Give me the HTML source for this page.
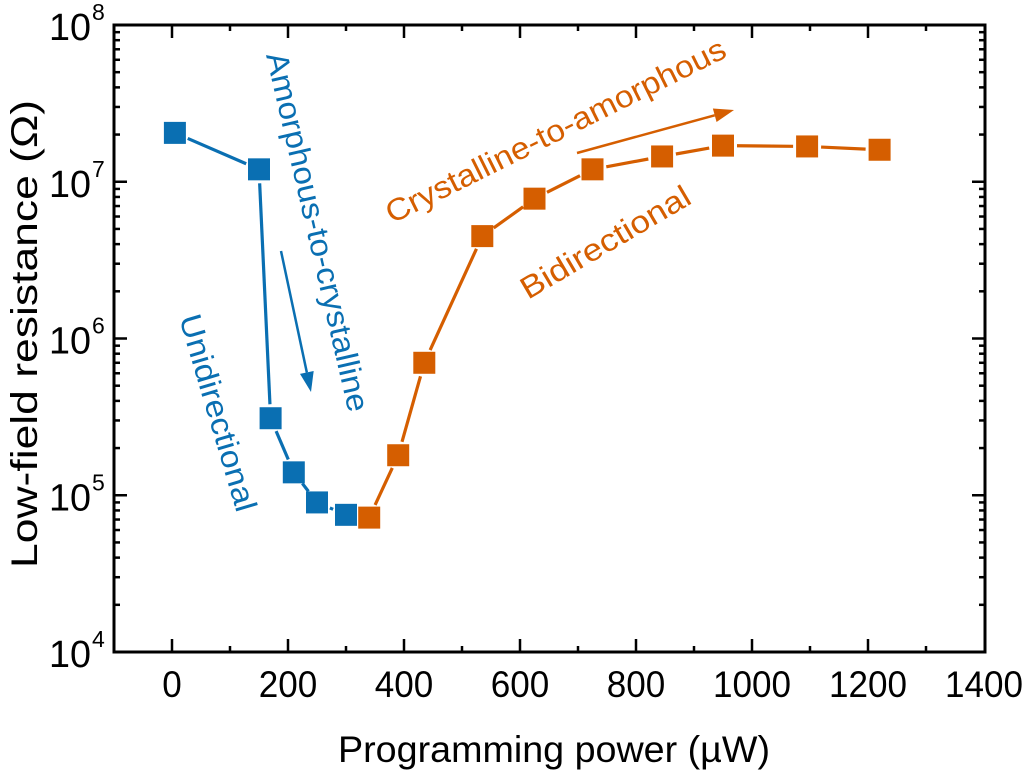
<!DOCTYPE html>
<html><head><meta charset="utf-8"><style>
html,body{margin:0;padding:0;background:#fff;}
svg{display:block;font-family:"Liberation Sans",Arial,sans-serif;}
</style></head><body>
<svg id="chart" width="1025" height="774" viewBox="0 0 1025 774">
<g id="axes"></g><g id="series"></g><g id="annot"></g>
</svg>
<script>
const xTicks=[0,200,400,600,800,1000,1200,1400];
const yDecades=[4,5,6,7,8];
const blueX=[5,150,170,210,250,300];
const blueY=[2.05e7,1.2e7,3.1e5,1.4e5,9.0e4,7.5e4];
const orangeX=[340,390,435,535,625,725,845,950,1095,1220];
const orangeY=[7.2e4,1.8e5,7.0e5,4.5e6,7.8e6,1.2e7,1.45e7,1.7e7,1.68e7,1.6e7];
const L=114,R=985,T=25,B=652;
const X=v=>172+v*(984-172)/1400;
const Y=v=>T+(8-Math.log10(v))*(B-T)/4;
const NS="http://www.w3.org/2000/svg";
function mk(tag,at,par){const e=document.createElementNS(NS,tag);for(const k in at)e.setAttribute(k,at[k]);par.appendChild(e);return e;}
const ax=document.getElementById('axes'),se=document.getElementById('series'),an=document.getElementById('annot');
const frame=mk('rect',{x:L,y:T,width:R-L,height:B-T,fill:'none',stroke:'#000','stroke-width':3},ax);


for(let v=-100;v<=1400;v+=100){const x=X(v);if(x<L+2||x>R-2)continue;const major=v%200===0;
 mk('line',{x1:x,y1:B,x2:x,y2:B-(major?13:6),stroke:'#000','stroke-width':2.5},ax);
 mk('line',{x1:x,y1:T,x2:x,y2:T+(major?13:6),stroke:'#000','stroke-width':2.5},ax);}
xTicks.forEach(v=>{const s=String(v);const t=mk('text',{x:X(v),y:B+45,'text-anchor':'middle','font-size':37,textLength:s.length*19.5,lengthAdjust:'spacingAndGlyphs'},ax);t.textContent=s;
 
 });
yDecades.forEach(d=>{const y=Y(Math.pow(10,d));
 mk('line',{x1:L,y1:y,x2:L+13,y2:y,stroke:'#000','stroke-width':2.5},ax);
 mk('line',{x1:R,y1:y,x2:R-13,y2:y,stroke:'#000','stroke-width':2.5},ax);
 if(d<8)for(let m=2;m<=9;m++){const yy=Y(m*Math.pow(10,d));
  mk('line',{x1:L,y1:yy,x2:L+6,y2:yy,stroke:'#000','stroke-width':2.5},ax);
  mk('line',{x1:R,y1:yy,x2:R-6,y2:yy,stroke:'#000','stroke-width':2.5},ax);}
 const t=mk('text',{x:49,y:y+15,'font-size':38,textLength:42,lengthAdjust:'spacingAndGlyphs'},ax);t.textContent='10';
 
 
 const s=mk('text',{x:92,y:y-5,'font-size':23},ax);s.textContent=d;});
const xt=mk('text',{x:554,y:762,'text-anchor':'middle','font-size':37,textLength:432,lengthAdjust:'spacingAndGlyphs'},ax);xt.textContent='Programming power (\u00b5W)';


const yt=mk('text',{x:0,y:0,'text-anchor':'middle','font-size':37,textLength:468,lengthAdjust:'spacingAndGlyphs',transform:`translate(37,334) rotate(-90)`},ax);yt.textContent='Low-field resistance (\u03a9)';


function series(xs,ys,col,name){
 const g=mk('g',{},se);
 
 
 for(let i=0;i<xs.length-1;i++){let x1=X(xs[i]),y1=Y(ys[i]),x2=X(xs[i+1]),y2=Y(ys[i+1]);
  const dx=x2-x1,dy=y2-y1,l=Math.hypot(dx,dy),g0=14;
  mk('line',{x1:x1+dx/l*g0,y1:y1+dy/l*g0,x2:x2-dx/l*g0,y2:y2-dy/l*g0,stroke:col,'stroke-width':3.2},g);}
 xs.forEach((v,i)=>{const r=mk('rect',{x:X(v)-11,y:Y(ys[i])-11,width:22,height:22,fill:col},g);
  
  });
}
const BLUE='#0a6fb2',OR='#d55e00';
series(blueX,blueY,BLUE,'unidirectional-series');
series(orangeX,orangeY,OR,'bidirectional-series');
function txt(s,x,y,ang,col,len,name){const t=mk('text',{x:0,y:0,'font-size':31,fill:col,textLength:len,lengthAdjust:'spacingAndGlyphs',transform:`translate(${x},${y}) rotate(${ang})`},an);t.textContent=s;
 
 }
txt('Amorphous-to-crystalline',266,55,77,BLUE,368,'amorphous-to-crystalline-label');
txt('Unidirectional',179,318,73.5,BLUE,204,'unidirectional-label');
txt('Crystalline-to-amorphous',392,224,-26.5,OR,376,'crystalline-to-amorphous-label');
txt('Bidirectional',528,300,-30.5,OR,192,'bidirectional-label');
function arrow(x1,y1,x2,y2,col,name){const g=mk('g',{},an);
 
 
 const a=Math.atan2(y2-y1,x2-x1),h=20,w=7;
 mk('line',{x1,y1,x2:x2-Math.cos(a)*h,y2:y2-Math.sin(a)*h,stroke:col,'stroke-width':2.5},g);
 const px=-Math.sin(a),py=Math.cos(a);
 mk('polygon',{points:`${x2},${y2} ${x2-Math.cos(a)*h+px*w},${y2-Math.sin(a)*h+py*w} ${x2-Math.cos(a)*h-px*w},${y2-Math.sin(a)*h-py*w}`,fill:col},g);}
arrow(281,251,311,392,BLUE,'blue-arrow');
arrow(577,153,734,110,OR,'orange-arrow');
</script>
</body></html>
